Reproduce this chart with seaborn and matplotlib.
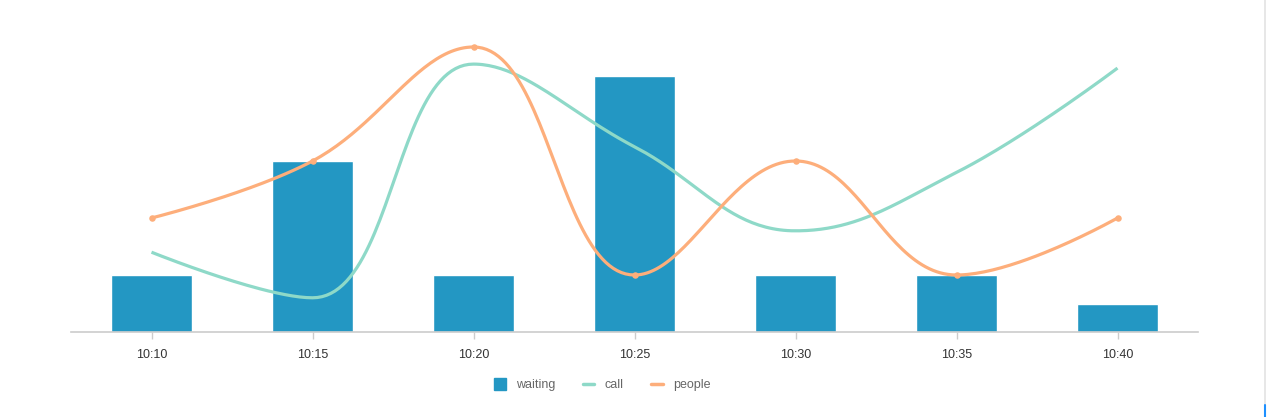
import matplotlib
matplotlib.use("Agg")
import matplotlib.pyplot as plt
from matplotlib.lines import Line2D
import seaborn as sns
import numpy as np
import pandas as pd

# data
times = ["10:10", "10:15", "10:20", "10:25", "10:30", "10:35", "10:40"]
waiting = [2, 6, 2, 9, 2, 2, 1]
call = [2.8, 1.2, 9.4, 6.5, 3.55, 5.6, 9.26]
people = [4, 6, 10, 2, 6, 2, 4]

bar_color = "#2397c3"
call_color = "#8ed9c8"
people_color = "#fdae7b"

sns.set_theme(style="white")
plt.rcParams["font.family"] = ["Liberation Sans", "DejaVu Sans"]

W, H = 1274, 417
fig = plt.figure(figsize=(W / 100, H / 100), dpi=100)
left, right, bottom, top = 71, 1198, 332, 47
ax = fig.add_axes([left / W, 1 - bottom / H, (right - left) / W, (bottom - top) / H])

df = pd.DataFrame({"time": times, "waiting": waiting})
sns.barplot(data=df, x="time", y="waiting", color=bar_color, width=0.5,
            saturation=1, ax=ax, zorder=2)

ax.set_xlim(-0.5, len(times) - 0.5)
ax.set_ylim(0, 10)

# pixel scale so the smoothing works in screen space
sx = (right - left) / len(times)
sy = (bottom - top) / 10.0


def smooth_curve(xs, ys, smooth=0.4, n=50):
    # catmull-rom style bezier, control points kept between neighbouring points
    p = np.column_stack([np.asarray(xs, float) * sx, np.asarray(ys, float) * sy])
    cps = [p[0]]
    for i in range(1, len(p) - 1):
        prev, pt, nxt = p[i - 1], p[i], p[i + 1]
        v = (nxt - prev) * smooth
        d0 = np.linalg.norm(pt - prev)
        d1 = np.linalg.norm(pt - nxt)
        s = d0 + d1
        d0, d1 = d0 / s, d1 / s
        nxt_cp = pt + v * d1
        nxt_cp = np.maximum(np.minimum(nxt_cp, np.maximum(nxt, pt)), np.minimum(nxt, pt))
        cp = pt - (nxt_cp - pt) * d0 / d1
        cp = np.maximum(np.minimum(cp, np.maximum(prev, pt)), np.minimum(prev, pt))
        nxt_cp = pt + (pt - cp) * d1 / d0
        cps += [cp, nxt_cp]
    cps.append(p[-1])
    t = np.linspace(0, 1, n)[:, None]
    out = []
    for i in range(len(p) - 1):
        a, b, c, d = p[i], cps[2 * i], cps[2 * i + 1], p[i + 1]
        seg = ((1 - t) ** 3) * a + 3 * ((1 - t) ** 2) * t * b + 3 * (1 - t) * t ** 2 * c + t ** 3 * d
        out.append(seg if i == 0 else seg[1:])
    out = np.vstack(out)
    return out[:, 0] / sx, out[:, 1] / sy


xpos = np.arange(len(times))
cx, cy = smooth_curve(xpos, call)
ax.plot(cx, cy, color=call_color, lw=2.3, zorder=3, solid_capstyle="butt", clip_on=False)
px, py = smooth_curve(xpos, people)
ax.plot(px, py, color=people_color, lw=2.3, zorder=4, solid_capstyle="butt", clip_on=False)
sns.scatterplot(x=xpos, y=people, color=people_color, s=22, edgecolor=people_color,
                linewidth=0, ax=ax, zorder=5, clip_on=False)

# axes styling
for side in ["top", "right", "left"]:
    ax.spines[side].set_visible(False)
ax.spines["bottom"].set_color("#cccccc")
ax.spines["bottom"].set_linewidth(1.2)
ax.set_yticks([])
ax.set_xlabel("")
ax.set_ylabel("")
ax.tick_params(axis="x", which="both", bottom=True, length=5, width=1,
               color="#cccccc", labelsize=9, labelcolor="#333333", pad=7)

handles = [
    Line2D([], [], marker="s", linestyle="none", color=bar_color, markersize=8),
    Line2D([], [], color=call_color, lw=2.5),
    Line2D([], [], color=people_color, lw=2.5),
]
fig.legend(handles, ["waiting", "call", "people"], loc="center",
           bbox_to_anchor=(602.5 / W, 1 - 385 / H), ncol=3, frameon=False,
           fontsize=9, labelcolor="#666666", handlelength=0.9,
           handletextpad=0.85, columnspacing=2.2)

# screenshot frame bits on the right edge
fig.add_artist(Line2D([1265 / W, 1265 / W], [0, 1], color="#e3e3e3", lw=1.2))
fig.add_artist(Line2D([1265 / W, 1265 / W], [0, 12 / H], color="#1e90ff", lw=1.5))

fig.savefig("out.png", dpi=100, facecolor="white")
